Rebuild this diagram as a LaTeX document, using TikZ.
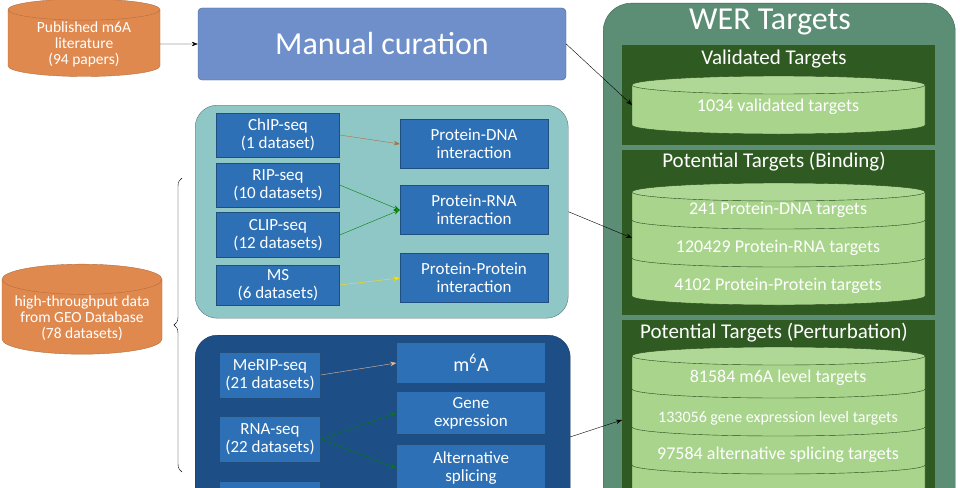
\documentclass[tikz,border=0pt]{standalone}
\usepackage{fontspec}
\setmainfont{Carlito}
\usetikzlibrary{shapes.geometric,arrows.meta,decorations.pathreplacing}
\definecolor{org}{HTML}{E0894F}
\definecolor{mcur}{HTML}{6E8FC9}
\definecolor{wer}{HTML}{5C8E76}
\definecolor{dg}{HTML}{2F5A22}
\definecolor{lg}{HTML}{A8D48C}
\definecolor{teal}{HTML}{8FC7C6}
\definecolor{bb}{HTML}{2E70B5}
\definecolor{db}{HTML}{1D4F86}
\newcommand{\mygcyl}[4]{% x1 x2 ytop ybot
  \pgfmathsetmacro{\rx}{(#2-#1)/2}
  \fill[lg] (#1,#3) -- (#1,#4) arc[start angle=180,end angle=0,x radius=\rx,y radius=9] -- (#2,#3) -- cycle;
  \draw[dg!80!black,thin] (#1,#3) -- (#1,#4) arc[start angle=180,end angle=0,x radius=\rx,y radius=9] -- (#2,#3);
  \draw[dg!80!black,thin,fill=lg!92!white] (#1+\rx,#3) ellipse[x radius=\rx,y radius=9];
}
\begin{document}
\begin{tikzpicture}[x=1pt,y=-1pt,
  cyl/.style={cylinder,shape border rotate=90,aspect=0.22,draw=org!80!black,fill=org,text=white,align=center,font=\fontsize{15.5}{16}\selectfont,inner sep=1pt},
  blk/.style={fill=bb,draw=bb!70!black,text=white,align=center,font=\fontsize{17}{18}\selectfont,inner sep=0pt},
  gt/.style={text=white,font=\fontsize{18}{19}\selectfont},
  ht/.style={text=white,font=\fontsize{21}{22}\selectfont},
  arr/.style={-{Stealth[length=6pt]},thin},
  sl/.style={draw=dg!80!black,thin}]
\useasboundingbox (0,0) rectangle (960,487);
\clip (0,0) rectangle (960,487);
\fill[white] (0,0) rectangle (960,487);
% left sources
\node[cyl,minimum width=152pt,minimum height=72pt] (pub) at (84,44) {Published m6A\\literature\\(94 papers)};
\node[cyl,minimum width=160pt,minimum height=90pt] (geo) at (82,318) {high-throughput data\\from GEO Database\\(78 datasets)};
\node[fill=mcur,draw=mcur!70!black,text=white,minimum width=368pt,minimum height=72pt,font=\fontsize{32}{33}\selectfont,rounded corners=4pt] (man) at (382,44) {Manual curation};
% WER
\node[fill=wer,draw=wer!70!black,rounded corners=28pt,minimum width=352pt,minimum height=520pt,anchor=north west] (wer) at (603,3) {};
\node[text=white,font=\fontsize{32}{34}\selectfont] (wt) at (770,22) {WER Targets};
\node[fill=dg,minimum width=313pt,minimum height=100pt,anchor=north west,inner sep=0pt] (vsec) at (622,45) {};
\node[ht] (vt) at (774,59) {Validated Targets};
\mygcyl{632}{925}{85}{125}
\coordinate (vc) at (632,105);
\node[gt] (v1) at (778,107) {1034 validated targets};
\node[fill=dg,minimum width=313pt,minimum height=165pt,anchor=north west,inner sep=0pt] (bsec) at (622,150) {};
\node[ht] (bt) at (774,162) {Potential Targets (Binding)};
\mygcyl{632}{925}{192}{296}
\coordinate (bc) at (632,238);
\draw[sl] (632,220) arc[start angle=180,end angle=0,x radius=146.5,y radius=9];
\draw[sl] (632,258) arc[start angle=180,end angle=0,x radius=146.5,y radius=9];
\node[gt] (b1) at (778,210) {241 Protein-DNA targets};
\node[gt] (b2) at (778,248) {120429 Protein-RNA targets};
\node[gt] (b3) at (778,286) {4102 Protein-Protein targets};
\node[fill=dg,minimum width=313pt,minimum height=180pt,anchor=north west,inner sep=0pt] (psec) at (622,320) {};
\node[ht] (pt) at (774,333) {Potential Targets (Perturbation)};
\mygcyl{632}{925}{356}{520}
\draw[sl] (632,389) arc[start angle=180,end angle=0,x radius=146.5,y radius=9];
\draw[sl] (632,427) arc[start angle=180,end angle=0,x radius=146.5,y radius=9];
\draw[sl] (632,465) arc[start angle=180,end angle=0,x radius=146.5,y radius=9];
\node[gt] (p1) at (778,378) {81584 m6A level targets};
\node[gt,font=\fontsize{16}{17}\selectfont] (p2) at (778,418) {133056 gene expression level targets};
\node[gt] (p3) at (778,455) {97584 alternative splicing targets};
% teal box
\node[fill=teal,draw=teal!60!black,rounded corners=22pt,minimum width=373pt,minimum height=213pt,anchor=north west] (tb) at (195,105) {};
\node[blk,minimum width=123pt,minimum height=44pt] (chip) at (278,135) {ChIP-seq\\(1 dataset)};
\node[blk,minimum width=123pt,minimum height=44pt] (rip) at (278,185) {RIP-seq\\(10 datasets)};
\node[blk,minimum width=123pt,minimum height=45pt] (clip) at (278,235) {CLIP-seq\\(12 datasets)};
\node[blk,minimum width=123pt,minimum height=40pt] (ms) at (278,285) {MS\\(6 datasets)};
\node[blk,minimum width=148pt,minimum height=49pt] (pd) at (474,144) {Protein-DNA\\interaction};
\node[blk,minimum width=148pt,minimum height=49pt] (pr) at (474,210) {Protein-RNA\\interaction};
\node[blk,minimum width=148pt,minimum height=49pt] (pp) at (474,278) {Protein-Protein\\interaction};
\draw[arr,draw=org!80!black] (chip.east) -- (pd.west);
\draw[arr,draw=green!50!black] (rip.east) -- (pr.west);
\draw[arr,draw=green!50!black] (clip.east) -- (pr.west);
\draw[arr,draw=yellow!80!orange] (ms.east) -- (pp.west);
% dark blue box
\node[fill=db,draw=db!70!black,rounded corners=22pt,minimum width=375pt,minimum height=200pt,anchor=north west] (dbx) at (195,335) {};
\node[blk,minimum width=101pt,minimum height=46pt] (mer) at (270,375) {MeRIP-seq\\(21 datasets)};
\node[blk,minimum width=101pt,minimum height=46pt] (rna) at (270,439) {RNA-seq\\(22 datasets)};
\node[blk,minimum width=101pt,minimum height=46pt,anchor=north] (oth) at (270,481) {};
\node[blk,minimum width=149pt,minimum height=41pt,font=\fontsize{20}{21}\selectfont] (m6a) at (471,363) {m\textsuperscript{6}A};
\node[blk,minimum width=149pt,minimum height=43pt] (ge) at (471,413) {Gene\\expression};
\node[blk,minimum width=149pt,minimum height=48pt,anchor=north] (as) at (471,444) {Alternative\\splicing};
\draw[arr,draw=org!60!white] (mer.east) -- (m6a.west);
\draw[arr,draw=green!50!black] (rna.east) -- (ge.west);
\draw[arr,draw=green!50!black] (rna.east) -- (as.west);
% connectors
\draw[arr] (pub.east) -- (man.west);
\draw[arr] (man.east) -- (vc);
\draw[arr] (tb.east) -- (bc);
\coordinate (dbo) at (570,437);
\coordinate (pin) at (622,420);
\draw[arr] (dbo) -- (pin);
\draw[decorate,decoration={brace,amplitude=8pt}] (182,472) -- (182,178);
\end{tikzpicture}
\end{document}
